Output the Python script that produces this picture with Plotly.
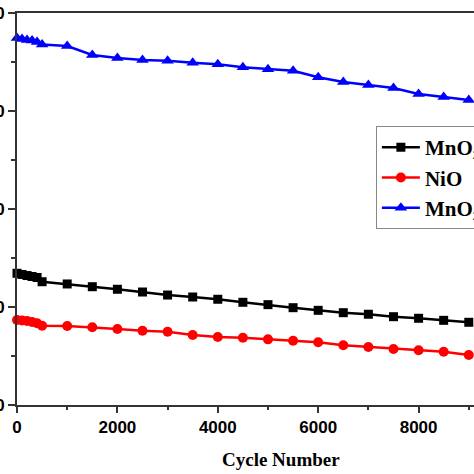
import plotly.graph_objects as go

cycles = [0, 100, 200, 300, 400, 500, 1000, 1500, 2000, 2500, 3000, 3500, 4000,
          4500, 5000, 5500, 6000, 6500, 7000, 7500, 8000, 8500, 9000]
mno2 = [134.4, 133.2, 132.1, 131.1, 130.1, 125.8, 123.5, 120.7, 118.1, 115.3, 112.2,
        110.2, 107.9, 104.8, 102.4, 99.3, 96.6, 94.2, 92.6, 90.1, 88.5, 86.4, 84.4]
nio = [86.7, 86.2, 85.7, 84.7, 83.4, 80.9, 80.6, 79.3, 77.6, 75.8, 74.8,
       71.4, 69.4, 68.7, 67.0, 65.6, 64.0, 60.9, 59.2, 57.1, 55.8, 54.4, 51.0]
composite = [374.5, 373.5, 372.4, 371.9, 370.4, 367.9, 366.3, 357.1, 354.1, 352.0, 351.3,
             349.3, 347.7, 344.6, 342.6, 341.1, 334.4, 329.6, 326.5, 323.5, 317.3, 314.3, 311.2]

names = ["<b>MnO₂</b>", "<b>NiO</b>", "<b>MnO₂/NiO</b>"]

fig = go.Figure()
fig.add_trace(go.Scatter(x=cycles, y=mno2, name=names[0], mode="lines+markers",
                         line=dict(color="#000000", width=2.5),
                         marker=dict(symbol="square", size=9, color="#000000"),
                         cliponaxis=False))
fig.add_trace(go.Scatter(x=cycles, y=nio, name=names[1], mode="lines+markers",
                         line=dict(color="#ff0000", width=2.5),
                         marker=dict(symbol="circle", size=10, color="#ff0000"),
                         cliponaxis=False))
fig.add_trace(go.Scatter(x=cycles, y=composite, name=names[2], mode="lines+markers",
                         line=dict(color="#0000ff", width=2.5),
                         marker=dict(symbol="triangle-up", size=11, color="#0000ff"),
                         cliponaxis=False))

tickfont = dict(family="Liberation Sans, Arial", size=17, color="#000000", weight="bold")

fig.update_layout(
    template="none",
    width=474, height=474,
    margin=dict(l=17, r=0, t=13, b=69, pad=0, autoexpand=False),
    paper_bgcolor="white", plot_bgcolor="white",
    showlegend=True,
    legend=dict(xref="container", yref="container", x=0.793, y=0.734,
                xanchor="left", yanchor="top", itemwidth=38,
                bordercolor="#888888", borderwidth=1, bgcolor="white",
                font=dict(family="Liberation Serif, Times New Roman", size=21, color="#000000"),
                tracegroupgap=0),
    xaxis=dict(range=[0, 9104], showgrid=False, zeroline=False, automargin=False,
               showline=True, linecolor="#333333", linewidth=2, mirror=True,
               ticks="outside", ticklen=6, tickwidth=2, tickcolor="#333333",
               dtick=2000, tick0=0, tickfont=tickfont,
               minor=dict(ticks="outside", ticklen=3, tickwidth=2, tickcolor="#333333", dtick=1000)),
    yaxis=dict(range=[0, 400], showgrid=False, zeroline=False, automargin=False,
               showline=True, linecolor="#333333", linewidth=2, mirror=False,
               ticks="outside", ticklen=7, tickwidth=2, tickcolor="#333333",
               dtick=100, tick0=0, tickfont=tickfont,
               minor=dict(ticks="outside", ticklen=4, tickwidth=2, tickcolor="#333333", dtick=50)),
    annotations=[dict(text="<b>Cycle Number</b>", xref="paper", yref="paper",
                      x=0.578, y=-0.138, xanchor="center", yanchor="middle",
                      showarrow=False,
                      font=dict(family="Liberation Serif, Times New Roman", size=19, color="#000000"))],
)

fig.write_html("out.html")
